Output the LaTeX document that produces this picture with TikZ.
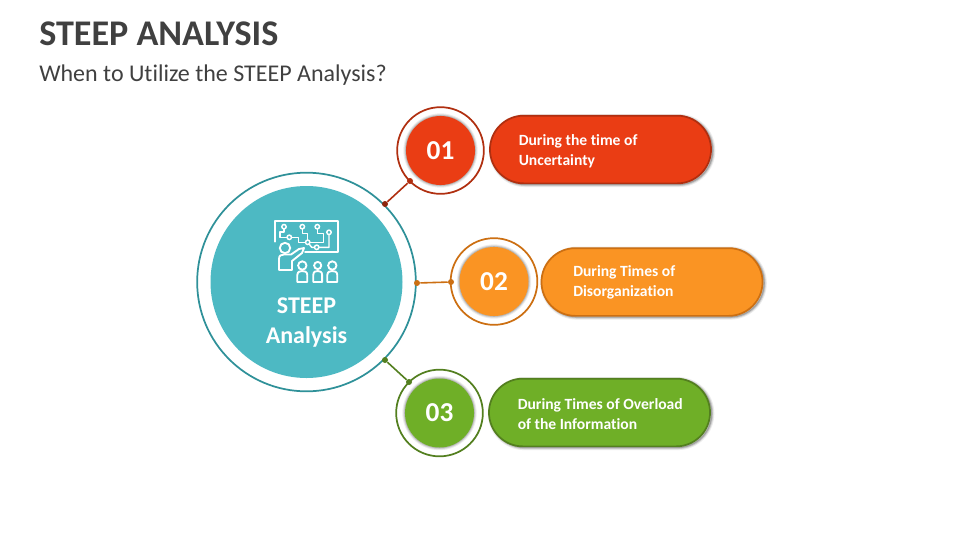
\documentclass[tikz,border=0pt]{standalone}
\usepackage{fontspec}
\setmainfont{Carlito}[Ligatures=NoCommon]
\usetikzlibrary{shapes.misc}
\definecolor{ttl}{HTML}{404040}
\definecolor{tealf}{HTML}{4DB9C3}
\definecolor{tealr}{HTML}{2F9199}
\definecolor{redf}{HTML}{EA3D14}
\definecolor{redr}{HTML}{B02F10}
\definecolor{oraf}{HTML}{FA9423}
\definecolor{orar}{HTML}{CC6F12}
\definecolor{grnf}{HTML}{6FAF27}
\definecolor{grnr}{HTML}{537F1F}
\tikzset{
  softglow/.style={
    preaction={draw=black,draw opacity=.07,line width=4pt},
    preaction={draw=black,draw opacity=.10,line width=2.5pt},
    preaction={draw=black,draw opacity=.14,line width=1.2pt}},
  softdrop/.style={
    preaction={draw=black,draw opacity=.08,line width=4pt,transform canvas={xshift=1.2pt,yshift=-.8pt}},
    preaction={draw=black,draw opacity=.14,line width=2.4pt,transform canvas={xshift=1.2pt,yshift=-.8pt}},
    preaction={draw=black,draw opacity=.20,line width=1pt,transform canvas={xshift=1.2pt,yshift=-.8pt}}},
  ringc/.style={circle,draw=#1,line width=1.3pt,fill=white,inner sep=0pt,minimum size=65pt},
  numc/.style={circle,fill=#1,inner sep=0pt,minimum size=51.75pt,text=white,font=\bfseries\fontsize{20.5}{22}\selectfont,softglow},
  pill/.style={rounded rectangle,rounded rectangle arc length=180,draw=#1,line width=1.3pt,inner sep=0pt,minimum width=165.8pt,minimum height=50.8pt,softdrop},
  lbl/.style={anchor=west,align=left,text=white,inner sep=0pt,font=\bfseries\fontsize{11.7}{15}\selectfont},
  dotn/.style={circle,fill=#1,inner sep=0pt,minimum size=4.5pt},
  conn/.style={line width=1.2pt},
  icn/.style={draw=white,line width=1.4pt,line join=round,line cap=round},
  icw/.style={draw=white,line width=1.1pt,line join=round,line cap=round},
  icd/.style={draw=white,line width=1.1pt,fill=tealf}
}
\begin{document}
\begin{tikzpicture}[x=.75pt,y=-.75pt]
\useasboundingbox (0,0) rectangle (960,540);
\node[anchor=base west,inner sep=0,text=ttl,font=\bfseries\fontsize{27.1}{30}\selectfont] (title) at (39,45) {STEEP ANALYSIS};
\node[anchor=base west,inner sep=0,text=ttl,font=\fontsize{18}{20}\selectfont] (sub) at (39,81) {When to Utilize the STEEP Analysis?};
% main circle
\node[circle,draw=tealr,line width=1.3pt,fill=white,inner sep=0,minimum size=164pt] (mainring) at (306.5,282) {};
\node[circle,fill=tealf,inner sep=0,minimum size=144pt] (main) at (306.5,282) {};
\node[text=white,align=center,inner sep=0,font=\bfseries\fontsize{18}{21.8}\selectfont] (mainlbl) at (306.5,322.5) {STEEP\\Analysis};
% icon
\draw[icn] (275.3,241.7) -- (275.3,220.7) -- (338,220.7) -- (338,251.7) -- (305,251.7);
\draw[icw] (284,226.7) -- (284,232) -- (280,232) -- (280,237.3) -- (298.3,237.3) -- (298.3,242.3) -- (307.7,242.3);
\draw[icw] (302.3,226.7) -- (302.3,233.3) -- (307.7,233.3) -- (307.7,242.3);
\draw[icw] (317.3,226.7) -- (317.3,233.3) -- (323.3,233.3) -- (323.3,242.3) -- (307.7,242.3);
\draw[icw] (329,232.3) -- (329,247.3) -- (316.7,247.3) -- (311.7,247.3) -- (307.7,242.3);
\foreach \p in {(284,226.7),(302.3,226.7),(317.3,226.7),(329,232.3),(289.3,237.3),(307.7,242.3),(316.7,247.3)}
  \draw[icd] \p circle[radius=2.2];
\draw[icn] (285,248) circle[radius=5.2];
\draw[icn] (279,270) -- (279,259) .. controls (279,255.5) and (281,254.5) .. (284,254.5) -- (291,254.5) -- (299,249) -- (304,248) -- (302,253) -- (292,261) -- (292,270) -- cycle;
\foreach \x/\r in {302.3/4.2,317.7/3.6,332.3/4.2}{
  \draw[icn] (\x,265.5) circle[radius=\r];
  \draw[icn] (\x-\r-.8,282) -- (\x-\r-.8,275) .. controls (\x-\r-.8,271.5) and (\x-2,271) .. (\x,271) .. controls (\x+2,271) and (\x+\r+.8,271.5) .. (\x+\r+.8,275) -- (\x+\r+.8,282) -- cycle;
}
% items
\node[ringc=redr] (r1) at (440.5,150.5) {};
\node[numc=redf] (n1) at (440.5,150.5) {01};
\node[pill=redr,fill=redf] (p1) at (600.5,149.5) {};
\node[lbl] (t1) at (518.5,151) {During the time of\\Uncertainty};
\node[ringc=orar] (r2) at (494,281.5) {};
\node[numc=oraf] (n2) at (494,281.5) {02};
\node[pill=orar,fill=oraf] (p2) at (652,282) {};
\node[lbl] (t2) at (573,282) {During Times of\\Disorganization};
\node[ringc=grnr] (r3) at (439.5,413) {};
\node[numc=grnf] (n3) at (439.5,413) {03};
\node[pill=grnr,fill=grnf] (p3) at (599.5,412.5) {};
\node[lbl] (t3) at (517.5,414) {During Times of Overload\\of the Information};
% connectors
\node[dotn=redr!80!black] (a1) at (385,204) {};
\node[dotn=redr] (b1) at (410,181) {};
\draw[conn,draw=redr] (a1) -- (b1);
\node[dotn=orar] (a2) at (417,283) {};
\node[dotn=orar] (b2) at (451,282) {};
\draw[conn,draw=orar] (a2) -- (b2);
\node[dotn=grnr] (a3) at (385,360) {};
\node[dotn=grnr] (b3) at (409,382) {};
\draw[conn,draw=grnr] (a3) -- (b3);
\end{tikzpicture}
\end{document}
